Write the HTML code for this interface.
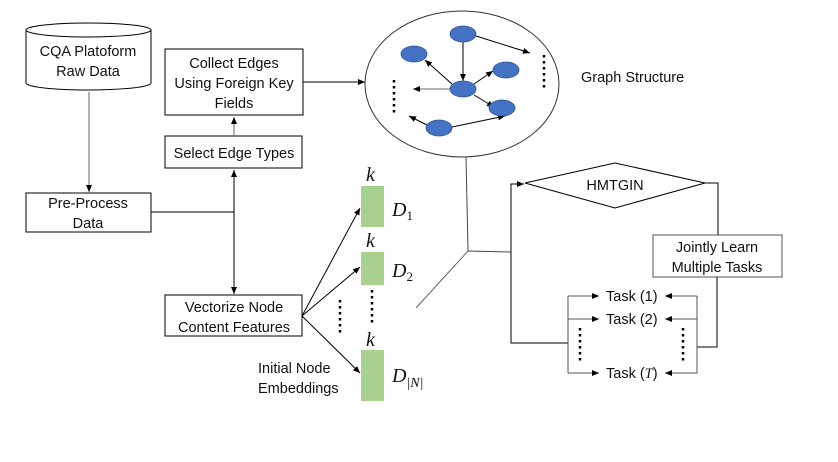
<!DOCTYPE html>
<html><head><meta charset="utf-8"><style>
body{margin:0;background:#fff;}
svg text{font-family:"Liberation Sans",sans-serif;font-size:14.5px;fill:#111;}
.m{font-family:"Liberation Serif",serif;font-style:italic;}
</style></head><body>
<svg width="838" height="457" viewBox="0 0 838 457" xmlns="http://www.w3.org/2000/svg">
<defs><marker id="a" markerWidth="8" markerHeight="8" refX="7" refY="4" orient="auto" markerUnits="userSpaceOnUse"><path d="M0,1 L7,4 L0,7z" fill="#000"/></marker></defs>
<g fill="none" stroke="#000" stroke-width="1">
<path d="M26,30 V83 A62.5,7 0 0 0 151,83 V30"/>
<ellipse cx="88.5" cy="30" rx="62.5" ry="7"/>
<rect x="165" y="49" width="138" height="66"/>
<rect x="165" y="136" width="137" height="32"/>
<rect x="26" y="193" width="125" height="39"/>
<rect x="165" y="295" width="137" height="41"/>
<line x1="89" y1="92" x2="89" y2="192" stroke="#666" marker-end="url(#a)"/>
<line x1="234" y1="136" x2="234" y2="117" stroke="#666" marker-end="url(#a)"/>
<line x1="151" y1="212" x2="234" y2="212"/>
<line x1="234" y1="230" x2="234" y2="170" marker-end="url(#a)"/>
<line x1="234" y1="230" x2="234" y2="294" marker-end="url(#a)"/>
<line x1="303" y1="82" x2="365" y2="82" marker-end="url(#a)"/>
<line x1="302" y1="316" x2="360" y2="208" marker-end="url(#a)"/>
<line x1="302" y1="316" x2="360" y2="267" marker-end="url(#a)"/>
<line x1="302" y1="316" x2="360" y2="373" marker-end="url(#a)"/>
<ellipse cx="462" cy="84" rx="97" ry="73" stroke="#333"/>
<line x1="476" y1="36" x2="530" y2="53" marker-end="url(#a)"/>
<line x1="463" y1="42" x2="463" y2="81" marker-end="url(#a)"/>
<line x1="452" y1="84" x2="425" y2="60" marker-end="url(#a)"/>
<line x1="450" y1="89" x2="413" y2="89" stroke="#666" marker-end="url(#a)"/>
<line x1="474" y1="84" x2="493" y2="71" marker-end="url(#a)"/>
<line x1="474" y1="95" x2="494" y2="107" marker-end="url(#a)"/>
<line x1="427" y1="125" x2="409" y2="116" marker-end="url(#a)"/>
<line x1="452" y1="127" x2="505" y2="116" marker-end="url(#a)"/>
<line x1="466" y1="157" x2="468" y2="251" stroke="#444"/>
<line x1="468" y1="251" x2="511" y2="252" stroke="#444"/>
<line x1="468" y1="251" x2="416" y2="308" stroke="#666"/>
<polygon points="525,183 615,163 705,183 615,208"/>
<polyline points="568,343 511,343 511,184 524,184" marker-end="url(#a)"/>
<polyline points="705,183 718,183 718,235"/>
<rect x="653" y="235" width="129" height="42" stroke="#555"/>
<polyline points="717,277 717,347 697,347"/>
<polyline points="568,296 568,373" stroke="#555"/>
<polyline points="697,296 697,373" stroke="#555"/>
<line x1="568" y1="296" x2="599" y2="296" stroke="#555" marker-end="url(#a)"/>
<line x1="568" y1="319" x2="599" y2="319" stroke="#555" marker-end="url(#a)"/>
<line x1="568" y1="373" x2="599" y2="373" stroke="#555" marker-end="url(#a)"/>
<line x1="697" y1="296" x2="665" y2="296" stroke="#555" marker-end="url(#a)"/>
<line x1="697" y1="319" x2="665" y2="319" stroke="#555" marker-end="url(#a)"/>
<line x1="697" y1="373" x2="665" y2="373" stroke="#555" marker-end="url(#a)"/>
</g>
<g fill="#4472c4" stroke="#2f528f" stroke-width="0.8">
<ellipse cx="463" cy="34" rx="13" ry="8"/>
<ellipse cx="414" cy="54" rx="13" ry="8"/>
<ellipse cx="506" cy="70" rx="13" ry="8"/>
<ellipse cx="463" cy="89" rx="13" ry="8"/>
<ellipse cx="502" cy="108" rx="13" ry="8"/>
<ellipse cx="439" cy="128" rx="13" ry="8"/>
</g>
<g stroke="#000" stroke-width="2.5" stroke-dasharray="2.5,3.5">
<line x1="544" y1="55" x2="544" y2="90"/>
<line x1="394" y1="80" x2="394" y2="115"/>
<line x1="340" y1="300" x2="340" y2="335"/>
<line x1="372" y1="290" x2="372" y2="325"/>
<line x1="580" y1="328" x2="580" y2="362"/>
<line x1="683" y1="328" x2="683" y2="362"/>
</g>
<g fill="#a9d18e">
<rect x="361" y="186" width="23" height="41"/>
<rect x="361" y="252" width="23" height="33"/>
<rect x="361" y="350" width="23" height="51"/>
</g>
<g text-anchor="middle">
<text x="88" y="56">CQA Platoform</text>
<text x="88" y="76">Raw Data</text>
<text x="234" y="68">Collect Edges</text>
<text x="234" y="88">Using Foreign Key</text>
<text x="234" y="108">Fields</text>
<text x="234" y="158">Select Edge Types</text>
<text x="88" y="208">Pre-Process</text>
<text x="88" y="228">Data</text>
<text x="234" y="312">Vectorize Node</text>
<text x="234" y="332">Content Features</text>
<text x="615" y="190">HMTGIN</text>
<text x="717" y="252">Jointly Learn</text>
<text x="717" y="272">Multiple Tasks</text>
</g>
<text x="258" y="373">Initial Node</text>
<text x="258" y="393">Embeddings</text>
<text x="581" y="82">Graph Structure</text>
<text x="606" y="301">Task (1)</text>
<text x="606" y="324">Task (2)</text>
<text x="606" y="378">Task (<tspan class="m">T</tspan>)</text>
<text class="m" x="366" y="181" style="font-size:20px">k</text>
<text class="m" x="366" y="247" style="font-size:20px">k</text>
<text class="m" x="366" y="346" style="font-size:20px">k</text>
<text class="m" x="392" y="216" style="font-size:20px">D<tspan style="font-size:13px;font-style:normal" dy="4">1</tspan></text>
<text class="m" x="392" y="277" style="font-size:20px">D<tspan style="font-size:13px;font-style:normal" dy="4">2</tspan></text>
<text class="m" x="392" y="382" style="font-size:20px">D<tspan style="font-size:14px" dy="5">|N|</tspan></text>
</svg>
</body></html>
